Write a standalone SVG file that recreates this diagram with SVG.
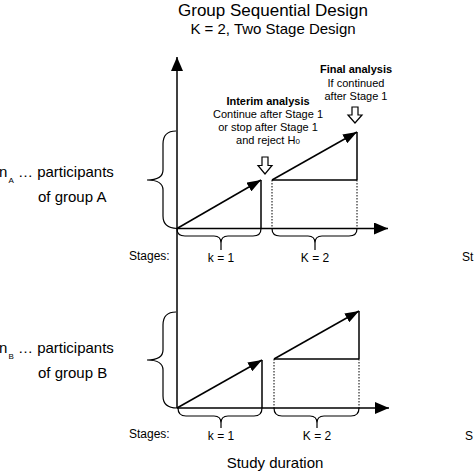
<svg xmlns="http://www.w3.org/2000/svg" width="474" height="474" viewBox="0 0 474 474">
<defs>
<marker id="ah" viewBox="0 0 14 10" refX="14" refY="5" markerWidth="14" markerHeight="10" markerUnits="userSpaceOnUse" orient="auto"><path d="M0,0 L14,5 L0,10 Z" fill="#000"/></marker>
<marker id="axh" viewBox="0 0 14 12" refX="14" refY="6" markerWidth="14" markerHeight="12" markerUnits="userSpaceOnUse" orient="auto"><path d="M0,0 L14,6 L0,12 Z" fill="#000"/></marker>
</defs>
<style>
text{font-family:"Liberation Sans",Arial,sans-serif;fill:#000}
.ln{stroke:#000;stroke-width:1.5;fill:none}
.dot{stroke:#000;stroke-width:1;stroke-dasharray:1.5 1.5;fill:none}
.br{stroke:#000;stroke-width:1.2;fill:none}
.hol{fill:#fff;stroke:#000;stroke-width:1.2}
.sm{font-size:11px}
.b{font-weight:bold}
.md{font-size:12px}
.lg{font-size:15px}
</style>
<rect width="474" height="474" fill="#fff"/>
<g id="title">
<text x="273" y="16" font-size="17" text-anchor="middle">Group Sequential Design</text>
<text x="273" y="33.5" font-size="15" text-anchor="middle">K = 2, Two Stage Design</text>
</g>
<g id="connectors">
<line class="ln" x1="177" y1="408" x2="177" y2="57" marker-end="url(#axh)"/>
<line class="ln" x1="177" y1="228.5" x2="388" y2="228.5" marker-end="url(#axh)"/>
<line class="ln" x1="177" y1="408" x2="389" y2="408" marker-end="url(#axh)"/>
<line class="ln" x1="177" y1="228.5" x2="261" y2="180" marker-end="url(#ah)"/>
<line class="ln" x1="261" y1="180" x2="261" y2="228.5"/>
<line class="ln" x1="272" y1="180" x2="357" y2="180"/>
<line class="ln" x1="272" y1="180" x2="357" y2="132" marker-end="url(#ah)"/>
<line class="ln" x1="357" y1="132" x2="357" y2="180"/>
<line class="dot" x1="272" y1="180" x2="272" y2="228.5"/>
<line class="dot" x1="357" y1="180" x2="357" y2="228.5"/>
<line class="ln" x1="177" y1="408" x2="262" y2="360" marker-end="url(#ah)"/>
<line class="ln" x1="262" y1="360" x2="262" y2="408"/>
<line class="ln" x1="274" y1="359" x2="359" y2="359"/>
<line class="ln" x1="274" y1="359" x2="359" y2="311" marker-end="url(#ah)"/>
<line class="ln" x1="359" y1="311" x2="359" y2="359"/>
<line class="dot" x1="274" y1="359" x2="274" y2="408"/>
<line class="dot" x1="359" y1="359" x2="359" y2="408"/>
</g>
<g id="interim">
<path class="hol" d="M262,157 L268,157 L268,165.5 L272,165.5 L265,174 L258,165.5 L262,165.5 Z"/>
<text class="sm b" x="268" y="105" text-anchor="middle">Interim analysis</text>
<text class="sm" x="268" y="118" text-anchor="middle">Continue after Stage 1</text>
<text class="sm" x="268" y="131" text-anchor="middle">or stop after Stage 1</text>
<text class="sm" x="268" y="144" text-anchor="middle">and reject H<tspan font-size="8">0</tspan></text>
</g>
<g id="final">
<path class="hol" d="M352,107 L358,107 L358,115 L362,115 L355,123 L348,115 L352,115 Z"/>
<text class="sm b" x="356" y="73" text-anchor="middle">Final analysis</text>
<text class="sm" x="356" y="86.5" text-anchor="middle">If continued</text>
<text class="sm" x="356" y="100" text-anchor="middle">after Stage 1</text>
</g>
<g id="groupA">
<path class="br" d="M176,131 Q163,131 163,144 L163,170 Q163,180 147,180 Q163,180 163,190 L163,216 Q163,228 177,228.5"/>
<text class="lg" y="177"><tspan x="-1">n</tspan><tspan x="8.5" y="183" font-size="8">A</tspan><tspan x="18" y="177">… participants</tspan></text>
<text class="lg" x="38" y="201.5">of group A</text>
</g>
<g id="groupB">
<path class="br" d="M176,312 Q163,312 163,325 L163,350 Q163,360 147,360 Q163,360 163,370 L163,396 Q163,408 177,408"/>
<text class="lg" y="353"><tspan x="-1">n</tspan><tspan x="8.5" y="359" font-size="8">B</tspan><tspan x="18" y="353">… participants</tspan></text>
<text class="lg" x="38" y="377.5">of group B</text>
</g>
<g id="stagesA">
<path class="br" d="M177,228.5 Q177,236 185,236 L214,236 Q221,236 221,243 L221,250 M221,243 Q221,236 228,236 L253,236 Q261,236 261,228.5"/>
<path class="br" d="M272,228.5 Q272,236 280,236 L308,236 Q315,236 315,243 L315,250 M315,243 Q315,236 322,236 L349,236 Q357,236 357,228.5"/>
<text class="md" x="129" y="260">Stages:</text>
<text class="md" x="221" y="261.5" text-anchor="middle">k = 1</text>
<text class="md" x="315" y="261.5" text-anchor="middle">K = 2</text>
</g>
<g id="stagesB">
<path class="br" d="M178,408 Q178,416 186,416 L214,416 Q221,416 221,423 L221,428 M221,423 Q221,416 228,416 L254,416 Q262,416 262,408"/>
<path class="br" d="M274,408 Q274,416 282,416 L310,416 Q317,416 317,423 L317,428 M317,423 Q317,416 324,416 L351,416 Q359,416 359,408"/>
<text class="md" x="129" y="437.5">Stages:</text>
<text class="md" x="221" y="440" text-anchor="middle">k = 1</text>
<text class="md" x="317" y="440" text-anchor="middle">K = 2</text>
</g>
<g id="edge">
<text class="md" x="462" y="260.5">St</text>
<text class="md" x="465" y="440">S</text>
</g>
<g id="xlabel">
<text x="275" y="468" font-size="15" text-anchor="middle">Study duration</text>
</g>
</svg>
